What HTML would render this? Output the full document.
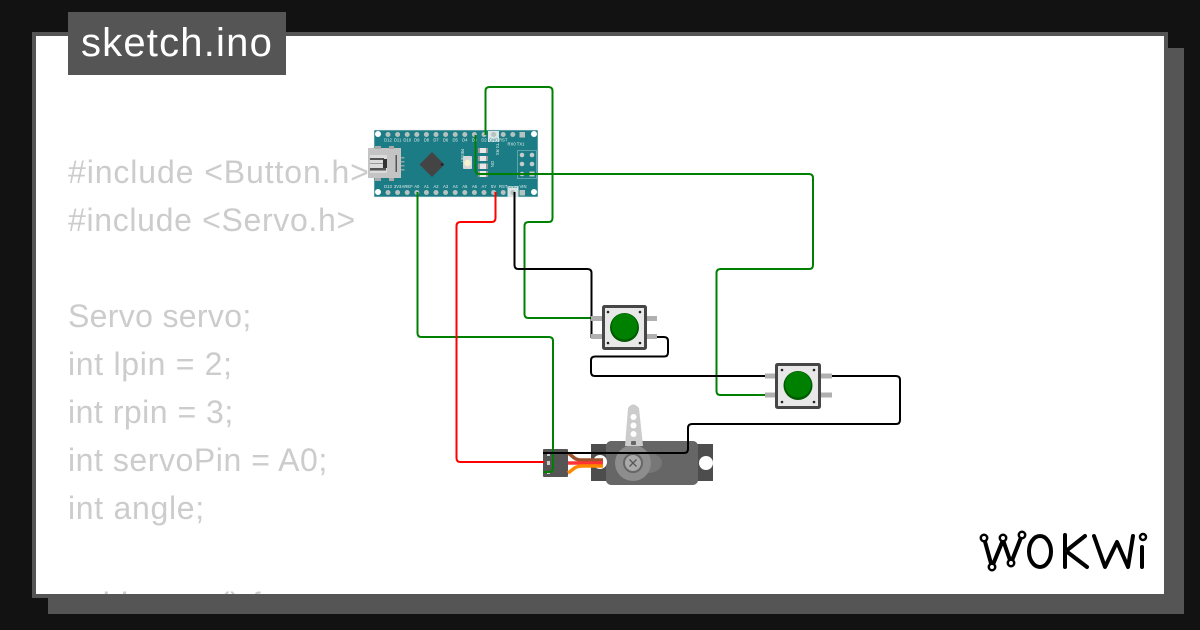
<!DOCTYPE html>
<html><head><meta charset="utf-8"><style>
html,body{margin:0;padding:0;background:#121212}
body{width:1200px;height:630px;overflow:hidden;position:relative;font-family:"Liberation Sans",sans-serif}
.s{position:absolute;left:48px;top:48px;width:1136px;height:566px;background:#555}
.f{position:absolute;left:32px;top:32px;width:1128px;height:558px;border:4px solid #555;background:#fff;overflow:hidden}
.c{position:absolute;left:32px;top:112px;font-size:32px;line-height:48px;height:48px;color:#ccc;white-space:pre;margin:0}
.t{position:absolute;left:68px;top:12px;width:218px;height:63px;background:#555;color:#fff;font-size:40px;line-height:63px;text-align:center;letter-spacing:1.2px}
svg{position:absolute;left:0;top:0}
</style></head><body>
<div class="s"></div>
<div class="f">
<div class="c" style="letter-spacing:.9px">#include &lt;Button.h&gt;</div>
<div class="c" style="top:160px;letter-spacing:.67px">#include &lt;Servo.h&gt;</div>
<div class="c" style="top:256px;letter-spacing:.33px">Servo servo;</div>
<div class="c" style="top:304px;letter-spacing:.7px">int lpin = 2;</div>
<div class="c" style="top:352px;letter-spacing:.5px">int rpin = 3;</div>
<div class="c" style="top:400px;letter-spacing:.55px">int servoPin = A0;</div>
<div class="c" style="top:448px;letter-spacing:.7px">int angle;</div>
<div class="c" style="top:544px;letter-spacing:.5px">void setup() {</div>
</div>
<div class="t">sketch.ino</div>
<svg width="1200" height="630" viewBox="0 0 1200 630" font-family="Liberation Sans, sans-serif">
<!-- Nano board -->
<rect x="374" y="130" width="164" height="67" fill="#1b7c85" stroke="#e8eeee" stroke-width=".6"/>
<g fill="#fff"><circle cx="378" cy="134" r="3"/><circle cx="534" cy="134" r="3"/><circle cx="378" cy="192" r="3"/><circle cx="534" cy="192" r="3"/></g>
<rect x="488" y="131" width="11" height="11" fill="#d9e4e4"/><rect x="507.500" y="186" width="11" height="11" fill="#d9e4e4"/>
<g fill="#b6c2c0">
<circle cx="388" cy="134.500" r="2.500"/><circle cx="397.600" cy="134.500" r="2.500"/><circle cx="407.200" cy="134.500" r="2.500"/><circle cx="416.800" cy="134.500" r="2.500"/><circle cx="426.400" cy="134.500" r="2.500"/><circle cx="436" cy="134.500" r="2.500"/><circle cx="445.600" cy="134.500" r="2.500"/><circle cx="455.200" cy="134.500" r="2.500"/><circle cx="464.800" cy="134.500" r="2.500"/><circle cx="474.400" cy="134.500" r="2.500"/><circle cx="484" cy="134.500" r="2.500"/><circle cx="493.600" cy="134.500" r="2.500"/><circle cx="503.200" cy="134.500" r="2.500"/><circle cx="512.800" cy="134.500" r="2.500"/>
<circle cx="388" cy="192.500" r="2.500"/><circle cx="397.600" cy="192.500" r="2.500"/><circle cx="407.200" cy="192.500" r="2.500"/><circle cx="416.800" cy="192.500" r="2.500"/><circle cx="426.400" cy="192.500" r="2.500"/><circle cx="436" cy="192.500" r="2.500"/><circle cx="445.600" cy="192.500" r="2.500"/><circle cx="455.200" cy="192.500" r="2.500"/><circle cx="464.800" cy="192.500" r="2.500"/><circle cx="474.400" cy="192.500" r="2.500"/><circle cx="484" cy="192.500" r="2.500"/><circle cx="493.600" cy="192.500" r="2.500"/><circle cx="503.200" cy="192.500" r="2.500"/><circle cx="512.800" cy="192.500" r="2.500"/>
<rect x="519.500" y="132" width="5.500" height="5.500"/><rect x="519.500" y="190" width="5.500" height="5.500"/>
</g>
<g fill="#e6efef" font-size="4.200" text-anchor="middle">
<text x="388" y="141.500">D12</text><text x="397.600" y="141.500">D11</text><text x="407.200" y="141.500">D10</text><text x="416.800" y="141.500">D9</text><text x="426.400" y="141.500">D8</text><text x="436" y="141.500">D7</text><text x="445.600" y="141.500">D6</text><text x="455.200" y="141.500">D5</text><text x="464.800" y="141.500">D4</text><text x="474.400" y="141.500">D3</text><text x="484" y="141.500">D2</text><text x="493.600" y="141.500" fill="#1c7f89">GND</text><text x="503.200" y="141.500">RST</text><text x="516" y="145.500">RX0 TX1</text>
<text x="388" y="188">D13</text><text x="397.600" y="188">3V3</text><text x="407.200" y="188">AREF</text><text x="416.800" y="188">A0</text><text x="426.400" y="188">A1</text><text x="436" y="188">A2</text><text x="445.600" y="188">A3</text><text x="455.200" y="188">A4</text><text x="464.800" y="188">A5</text><text x="474.400" y="188">A6</text><text x="484" y="188">A7</text><text x="493.600" y="188">5V</text><text x="503.200" y="188">RST</text><text x="512.800" y="188" fill="#1c7f89">GND</text><text x="523" y="188">VIN</text>
<text transform="translate(461 156) rotate(90)">RESET</text><text transform="translate(496 149) rotate(90)">TX RX</text><text transform="translate(491 164) rotate(90)">ON</text>
</g>
<!-- USB -->
<rect x="368" y="148" width="33" height="30" fill="#c4c4c4"/>
<rect x="375" y="146" width="6" height="3" fill="#aaa"/><rect x="389" y="146" width="5" height="3" fill="#aaa"/><rect x="375" y="178" width="6" height="3" fill="#aaa"/><rect x="389" y="178" width="5" height="3" fill="#aaa"/>
<rect x="370" y="155" width="17" height="18" fill="#dcdcdc"/>
<rect x="370" y="158" width="14" height="2" fill="#555"/><rect x="370" y="168" width="16" height="2.500" fill="#555"/><rect x="383" y="159" width="4" height="9" fill="#333"/><rect x="370" y="163" width="13" height="1" fill="#999"/>
<rect x="395.500" y="155" width="1.500" height="17" fill="#555"/>
<g fill="#8fa3a3"><rect x="401" y="157" width="3.500" height="1.500"/><rect x="401" y="161" width="3.500" height="1.500"/><rect x="401" y="165" width="3.500" height="1.500"/><rect x="401" y="169" width="3.500" height="1.500"/></g>
<!-- chip -->
<path d="M432 152l12.500 12.500-12.500 12.500-12.500-12.500z" fill="#444"/><circle cx="442" cy="164.500" r="1.300" fill="#222"/>
<!-- reset & LEDs -->
<rect x="463" y="156" width="9" height="13" rx="1" fill="#d8d8d8"/><circle cx="467.500" cy="163" r="3.300" fill="#f4f2cf"/>
<g fill="#e8e8e8"><rect x="478" y="148" width="10" height="5"/><rect x="478" y="156" width="10" height="5"/><rect x="478" y="163.500" width="10" height="5.500"/><rect x="478" y="171" width="10" height="6"/></g>
<g fill="#999"><rect x="478" y="148" width="2" height="5"/><rect x="486" y="148" width="2" height="5"/><rect x="478" y="156" width="2" height="5"/><rect x="486" y="156" width="2" height="5"/><rect x="478" y="163.500" width="2" height="5.500"/><rect x="486" y="163.500" width="2" height="5.500"/><rect x="478" y="171" width="2" height="6"/><rect x="486" y="171" width="2" height="6"/></g>
<!-- ICSP -->
<rect x="517.500" y="150.500" width="19" height="28" fill="none" stroke="#6fb0b5" stroke-width=".8"/>
<g fill="#c3ccca"><circle cx="522" cy="155" r="2.300"/><circle cx="532" cy="155" r="2.300"/><circle cx="522" cy="164" r="2.300"/><circle cx="532" cy="164" r="2.300"/><circle cx="522" cy="174" r="2.300"/></g><rect x="529.500" y="171.500" width="5" height="5" fill="#c3ccca"/>
<!-- Servo -->
<rect x="591" y="444" width="122" height="37" fill="#4d4d4d"/>
<rect x="606" y="441" width="92" height="44" rx="5" fill="#666"/>
<circle cx="600" cy="462" r="7" fill="#fff"/><circle cx="706" cy="463" r="7" fill="#fff"/>
<ellipse cx="648" cy="463" rx="14" ry="10" fill="#777"/>
<circle cx="633" cy="463" r="18" fill="#8d8d8d"/>
<path d="M628 408q5-7 11 0l4 38h-18z" fill="#ccc"/>
<g fill="#fff"><circle cx="633.500" cy="417" r="3"/><circle cx="633.500" cy="425.500" r="3"/><circle cx="633.500" cy="434" r="3"/></g><rect x="631" y="441" width="5" height="4" rx="1" fill="#666"/>
<circle cx="633" cy="463" r="9" fill="#aaa" stroke="#666" stroke-width="2"/>
<path d="M629.500 459.500l7 7M636.500 459.500l-7 7" stroke="#555" stroke-width="1.300"/>
<!-- Servo connector and wires -->
<rect x="543" y="449" width="25" height="28" rx="1" fill="#555"/>
<path d="M568 453c5 3 6 7 13 7h22" fill="none" stroke="#a0522d" stroke-width="3.500"/>
<path d="M568 463h35" fill="none" stroke="#f33" stroke-width="3.500"/>
<path d="M568 473c6-4 7-7 14-7h21" fill="none" stroke="#f80" stroke-width="3.500"/>
<g fill="#ccc"><rect x="547" y="452" width="3" height="4"/><rect x="547" y="461" width="3" height="4"/><rect x="547" y="471" width="3" height="3"/></g>
<!-- Wires -->
<g fill="none" stroke-width="2" stroke-linejoin="round">
<path stroke="#008000" d="M485.500 135V91q0-4 4-4h59q4 0 4 4v127q0 4-4 4h-20q-4 0-4 4v88q0 4 4 4h68"/>
<path stroke="#008000" d="M475.500 135V170q0 4 4 4h329.500q4 0 4 4v87q0 4-4 4h-88.500q-4 0-4 4v118q0 4 4 4h49"/>
<path stroke="#008000" d="M417.500 192V333q0 4 4 4h127.500q4 0 4 4v127q0 4-4 4h-6"/>
<path stroke="#f00" d="M495.500 192V218q0 4-4 4h-31q-4 0-4 4v232q0 4 4 4h84"/>
<path stroke="#000" d="M514.500 192V265q0 4 4 4h69q4 0 4 4v65"/>
<path stroke="#000" d="M657 337h7q4 0 4 4v11.500q0 4-4 4h-69q-4 0-4 4v11.500q0 4 4 4h170"/>
<path stroke="#000" d="M832 376h64q4 0 4 4v40q0 4-4 4h-204q-4 0-4 4v21q0 4-4 4h-141"/>
</g>
<!-- Buttons -->
<g fill="#b0b0b0"><rect x="591" y="316" width="12" height="5"/><rect x="591" y="334" width="12" height="5"/><rect x="645" y="316" width="12" height="5"/><rect x="645" y="334" width="12" height="5"/>
<rect x="765" y="373.500" width="12" height="5"/><rect x="765" y="392.500" width="12" height="5"/><rect x="819" y="373.500" width="13" height="5"/><rect x="819" y="392.500" width="13" height="5"/></g>
<rect x="603.500" y="306.500" width="42" height="42" rx="1" fill="#e8e8e8" stroke="#464646" stroke-width="3"/>
<rect x="776.500" y="364.500" width="43" height="43" rx="1" fill="#e8e8e8" stroke="#464646" stroke-width="3"/>
<g fill="#222"><circle cx="608" cy="312" r="1.300"/><circle cx="640" cy="312" r="1.300"/><circle cx="608" cy="343" r="1.300"/><circle cx="640" cy="343" r="1.300"/><circle cx="782" cy="370" r="1.300"/><circle cx="814" cy="370" r="1.300"/><circle cx="782" cy="402" r="1.300"/><circle cx="814" cy="402" r="1.300"/></g>
<circle cx="624.500" cy="327.500" r="14.500" fill="#005a00"/><circle cx="624.500" cy="326.500" r="13" fill="#008000"/>
<circle cx="798" cy="385.500" r="14.500" fill="#005a00"/><circle cx="798" cy="384.500" r="13" fill="#008000"/>
<!-- Wokwi logo -->
<g fill="none" stroke="#000" stroke-width="4" stroke-linecap="round" stroke-linejoin="round">
<path d="M984 538l8 29 11-27 8 23 11-28"/>
<ellipse cx="1040" cy="551.500" rx="11" ry="15.500"/>
<path d="M1065 535v32M1085 536l-19 15 21 16"/>
<path d="M1094 536l11 31 12-25 11 25 5-31"/>
<path d="M1142 547v20"/>
</g>
<g fill="#fff" stroke="#000" stroke-width="2.500"><circle cx="984" cy="538" r="3.200"/><circle cx="1003" cy="538" r="3.200"/><circle cx="1022" cy="535" r="3.200"/><circle cx="992" cy="567" r="3.200"/><circle cx="1011" cy="563" r="3.200"/><circle cx="1066" cy="551" r="1.500"/><circle cx="1143" cy="537" r="3"/></g>
</svg>
</body></html>
